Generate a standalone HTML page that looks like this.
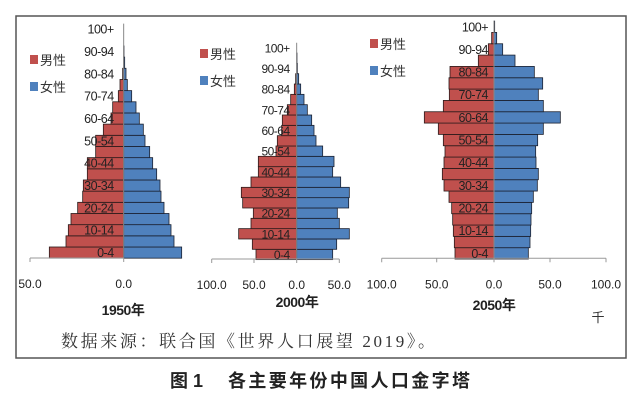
<!DOCTYPE html>
<html><head><meta charset="utf-8"><style>
html,body{margin:0;padding:0;background:#fff;width:640px;height:402px;overflow:hidden}
svg{display:block}
</style></head><body>
<svg id="s" width="640" height="402" xmlns="http://www.w3.org/2000/svg" font-family="Liberation Sans, Noto Sans CJK SC, sans-serif">
<rect x="16" y="16" width="610" height="342" fill="#fff" stroke="#555" stroke-width="1.5"/>
<text x="61" y="347" font-family="Liberation Serif, Noto Serif CJK SC, serif" font-size="17" fill="#333" textLength="374" lengthAdjust="spacing">数据来源：联合国《世界人口展望 2019》。</text>
<text x="170" y="387" font-size="18" font-weight="bold" fill="#222">图 1</text>
<text x="228" y="387" font-size="18" font-weight="bold" fill="#222" textLength="242" lengthAdjust="spacing">各主要年份中国人口金字塔</text>
<g id="g"></g>
</svg>
<script>
var g=document.getElementById('g'),h='';
function P(ox,oy,zc,top0,step,bh,ml,fr,axisY,ticks,labX,fs){
  var c=ox+zc/3;
  for(var i=0;i<ml.length;i++){
    var y=top0-i*step;
    var l=ox+ml[i]/3,r=ox+fr[i]/3;
    if(c-l>0.3)h+='<rect x="'+l+'" y="'+y+'" width="'+(c-l)+'" height="'+bh+'" fill="#c0504d" stroke="#2a1a1a" stroke-width="0.8"/>';
    if(r-c>0.3)h+='<rect x="'+c+'" y="'+y+'" width="'+(r-c)+'" height="'+bh+'" fill="#4f81bd" stroke="#1a2030" stroke-width="0.8"/>';
  }
  var topY=top0-20*step;
  h+='<line x1="'+c+'" y1="'+topY+'" x2="'+c+'" y2="'+axisY+'" stroke="#888" stroke-width="1"/>';
  h+='<line x1="'+ticks[0][0]+'" y1="'+axisY+'" x2="'+ticks[ticks.length-1][0]+'" y2="'+axisY+'" stroke="#999" stroke-width="1"/>';
  ticks.forEach(function(t){h+='<line x1="'+t[0]+'" y1="'+axisY+'" x2="'+t[0]+'" y2="'+(axisY+4)+'" stroke="#999"/>';
    h+='<text x="'+t[0]+'" y="'+(axisY+30)+'" text-anchor="middle" font-size="12" fill="#222">'+t[1]+'</text>';});
  var labs=['0-4','10-14','20-24','30-34','40-44','50-54','60-64','70-74','80-84','90-94','100+'];
  for(var k=0;k<11;k++){var y=top0-2*k*step+bh/2+4.5;
    h+='<text x="'+(c-labX)+'" y="'+y+'" text-anchor="end" font-size="'+fs+'" letter-spacing="-0.5" fill="#222">'+labs[k]+'</text>';}
}
P(0,0,371,247,11.17,11.17,
[148,198,205,213,233,248,250,262,262,287,287,310,333,338,355,360,368,371,371,371,371],
[545,522,513,507,492,483,480,470,458,449,435,430,418,408,395,382,378,374,372,371,371],
258,[[30,'50.0'],[123.7,'0.0']],10,12.5);
P(200,20,290,249.3,10.33,10.33,
[168,157,116,153,160,128,124,153,175,175,228,232,245,247,262,272,283,287,290,290,290],
[398,410,448,418,412,446,448,422,398,402,368,348,342,335,322,312,302,296,292,291,290],
259,[[211.7,'100.0'],[254,'50.0'],[296.7,'0.0'],[339.3,'50.0']],7,12);
P(370,10,372,247.7,11.33,11.33,
[255,253,250,248,245,237,222,217,222,225,220,205,163,220,238,237,240,325,355,365,372],
[475,480,482,483,485,490,502,505,498,497,503,520,571,520,505,518,493,435,398,380,374],
258.3,[[381.7,'100.0'],[436.7,'50.0'],[494,'0.0'],[550,'50.0'],[606,'100.0']],6,12.5);
function L(x,y){h+='<rect x="'+x+'" y="'+(y-9)+'" width="8" height="9" fill="#c0504d"/><text x="'+(x+10)+'" y="'+(y+1)+'" font-size="13" fill="#333">男性</text>';
  h+='<rect x="'+x+'" y="'+(y+18)+'" width="8" height="9" fill="#4f81bd"/><text x="'+(x+10)+'" y="'+(y+28)+'" font-size="13" fill="#333">女性</text>';}
L(30,64);L(200,58);L(370,48);
h+='<text x="123" y="315" text-anchor="middle" font-size="14" font-weight="bold" fill="#222" letter-spacing="-0.5">1950年</text>';
h+='<text x="297" y="307" text-anchor="middle" font-size="14" font-weight="bold" fill="#222" letter-spacing="-0.5">2000年</text>';
h+='<text x="494" y="310" text-anchor="middle" font-size="14" font-weight="bold" fill="#222" letter-spacing="-0.5">2050年</text>';
h+='<text x="598" y="322" text-anchor="middle" font-size="13" fill="#333">千</text>';
g.innerHTML=h;
</script>
</body></html>
